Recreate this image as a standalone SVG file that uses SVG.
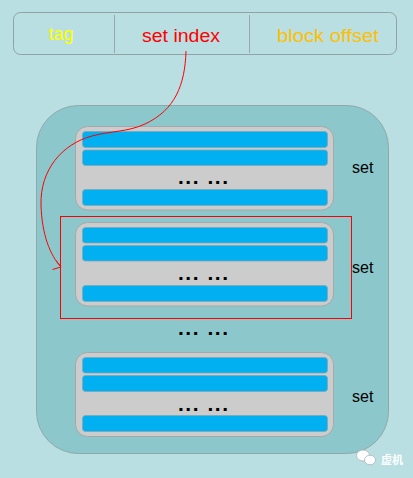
<svg xmlns="http://www.w3.org/2000/svg" width="413" height="478" viewBox="0 0 413 478">
<style>
text{font-family:"Liberation Sans",Arial,sans-serif}
.set{fill:#CCCCCC;stroke:#A3A9AA;stroke-width:1}
.line{fill:#00B0F0;stroke:#7FA7B8;stroke-width:0.8}
.dots{font-size:21px;font-weight:bold;fill:#000}
.lbl{font-size:16px;fill:#000}
</style>
<rect x="0" y="0" width="413" height="478" fill="#B9DFE2"/>
<g id="address">
<rect x="13.5" y="12.5" width="383" height="42" rx="7" fill="#B9DFE2" stroke="#8FA3A5" stroke-width="1"/>
<line x1="114.5" y1="15" x2="114.5" y2="53" stroke="#9AA8AA"/>
<line x1="249.5" y1="15" x2="249.5" y2="53" stroke="#9AA8AA"/>
<text x="61" y="40" font-size="18" fill="#FFFF00" text-anchor="middle">tag</text>
<text x="142" y="42" font-size="18" fill="#FF0000" textLength="78" lengthAdjust="spacingAndGlyphs">set index</text>
<text x="277" y="42" font-size="18" fill="#FFC000" textLength="102" lengthAdjust="spacingAndGlyphs">block offset</text>
</g>
<g id="cache">
<rect x="36.5" y="105.5" width="352" height="348" rx="42" fill="#8CC8CB" stroke="#8FA8AA" stroke-width="1"/>
</g>
<g id="set1">
<rect class="set" x="75.5" y="126.5" width="258" height="83.5" rx="12"/>
<rect class="line" x="82.5" y="131.5" width="245" height="16" rx="3"/>
<rect class="line" x="82.5" y="150" width="245" height="15.5" rx="3"/>
<rect class="line" x="82.5" y="189.5" width="245" height="16" rx="3"/>
<text class="dots" x="178" y="184" textLength="50">... ...</text>
<text class="lbl" x="352" y="173">set</text>
</g>
<g id="set2">
<rect class="set" x="75.5" y="222.5" width="258" height="83.5" rx="12"/>
<rect class="line" x="82.5" y="227.5" width="245" height="15.5" rx="3"/>
<rect class="line" x="82.5" y="245.5" width="245" height="15.5" rx="3"/>
<rect class="line" x="82.5" y="285.5" width="245" height="16" rx="3"/>
<text class="dots" x="178" y="280" textLength="50">... ...</text>
<text class="lbl" x="352" y="273">set</text>
</g>
<g id="highlight">
<rect x="60.5" y="216.5" width="291" height="102" fill="none" stroke="#FF0000" stroke-width="1"/>
</g>
<g id="middots">
<text class="dots" x="178" y="334.5" textLength="50">... ...</text>
</g>
<g id="set3">
<rect class="set" x="75.5" y="352.5" width="258" height="84" rx="12"/>
<rect class="line" x="82.5" y="357.5" width="245" height="15.5" rx="3"/>
<rect class="line" x="82.5" y="375.5" width="245" height="16" rx="3"/>
<rect class="line" x="82.5" y="415.5" width="245" height="16" rx="3"/>
<text class="dots" x="178" y="410.5" textLength="50">... ...</text>
<text class="lbl" x="352" y="402">set</text>
</g>
<g id="connectors" fill="none" stroke="#FF0000" stroke-width="1">
<path d="M186,51 C185,85 175,110 145,124 C128,132 110,131 92,136 C62,144 40,170 41,205 C42,235 50,255 61,267"/>
<path d="M52.5,269.5 L61,267 L56,260.5"/>
</g>
<g id="watermark">
<ellipse cx="363" cy="455.5" rx="6.5" ry="5.5" fill="#FFFFFF" stroke="#A8B4B6" stroke-width="0.8"/>
<ellipse cx="370" cy="460" rx="5.5" ry="4.8" fill="#FFFFFF" stroke="#A8B4B6" stroke-width="0.8"/>
<text x="381" y="464" font-size="11" font-weight="bold" fill="#FFFFFF" style="font-family:'Noto Sans CJK SC',sans-serif">虚机</text>
</g>
</svg>
